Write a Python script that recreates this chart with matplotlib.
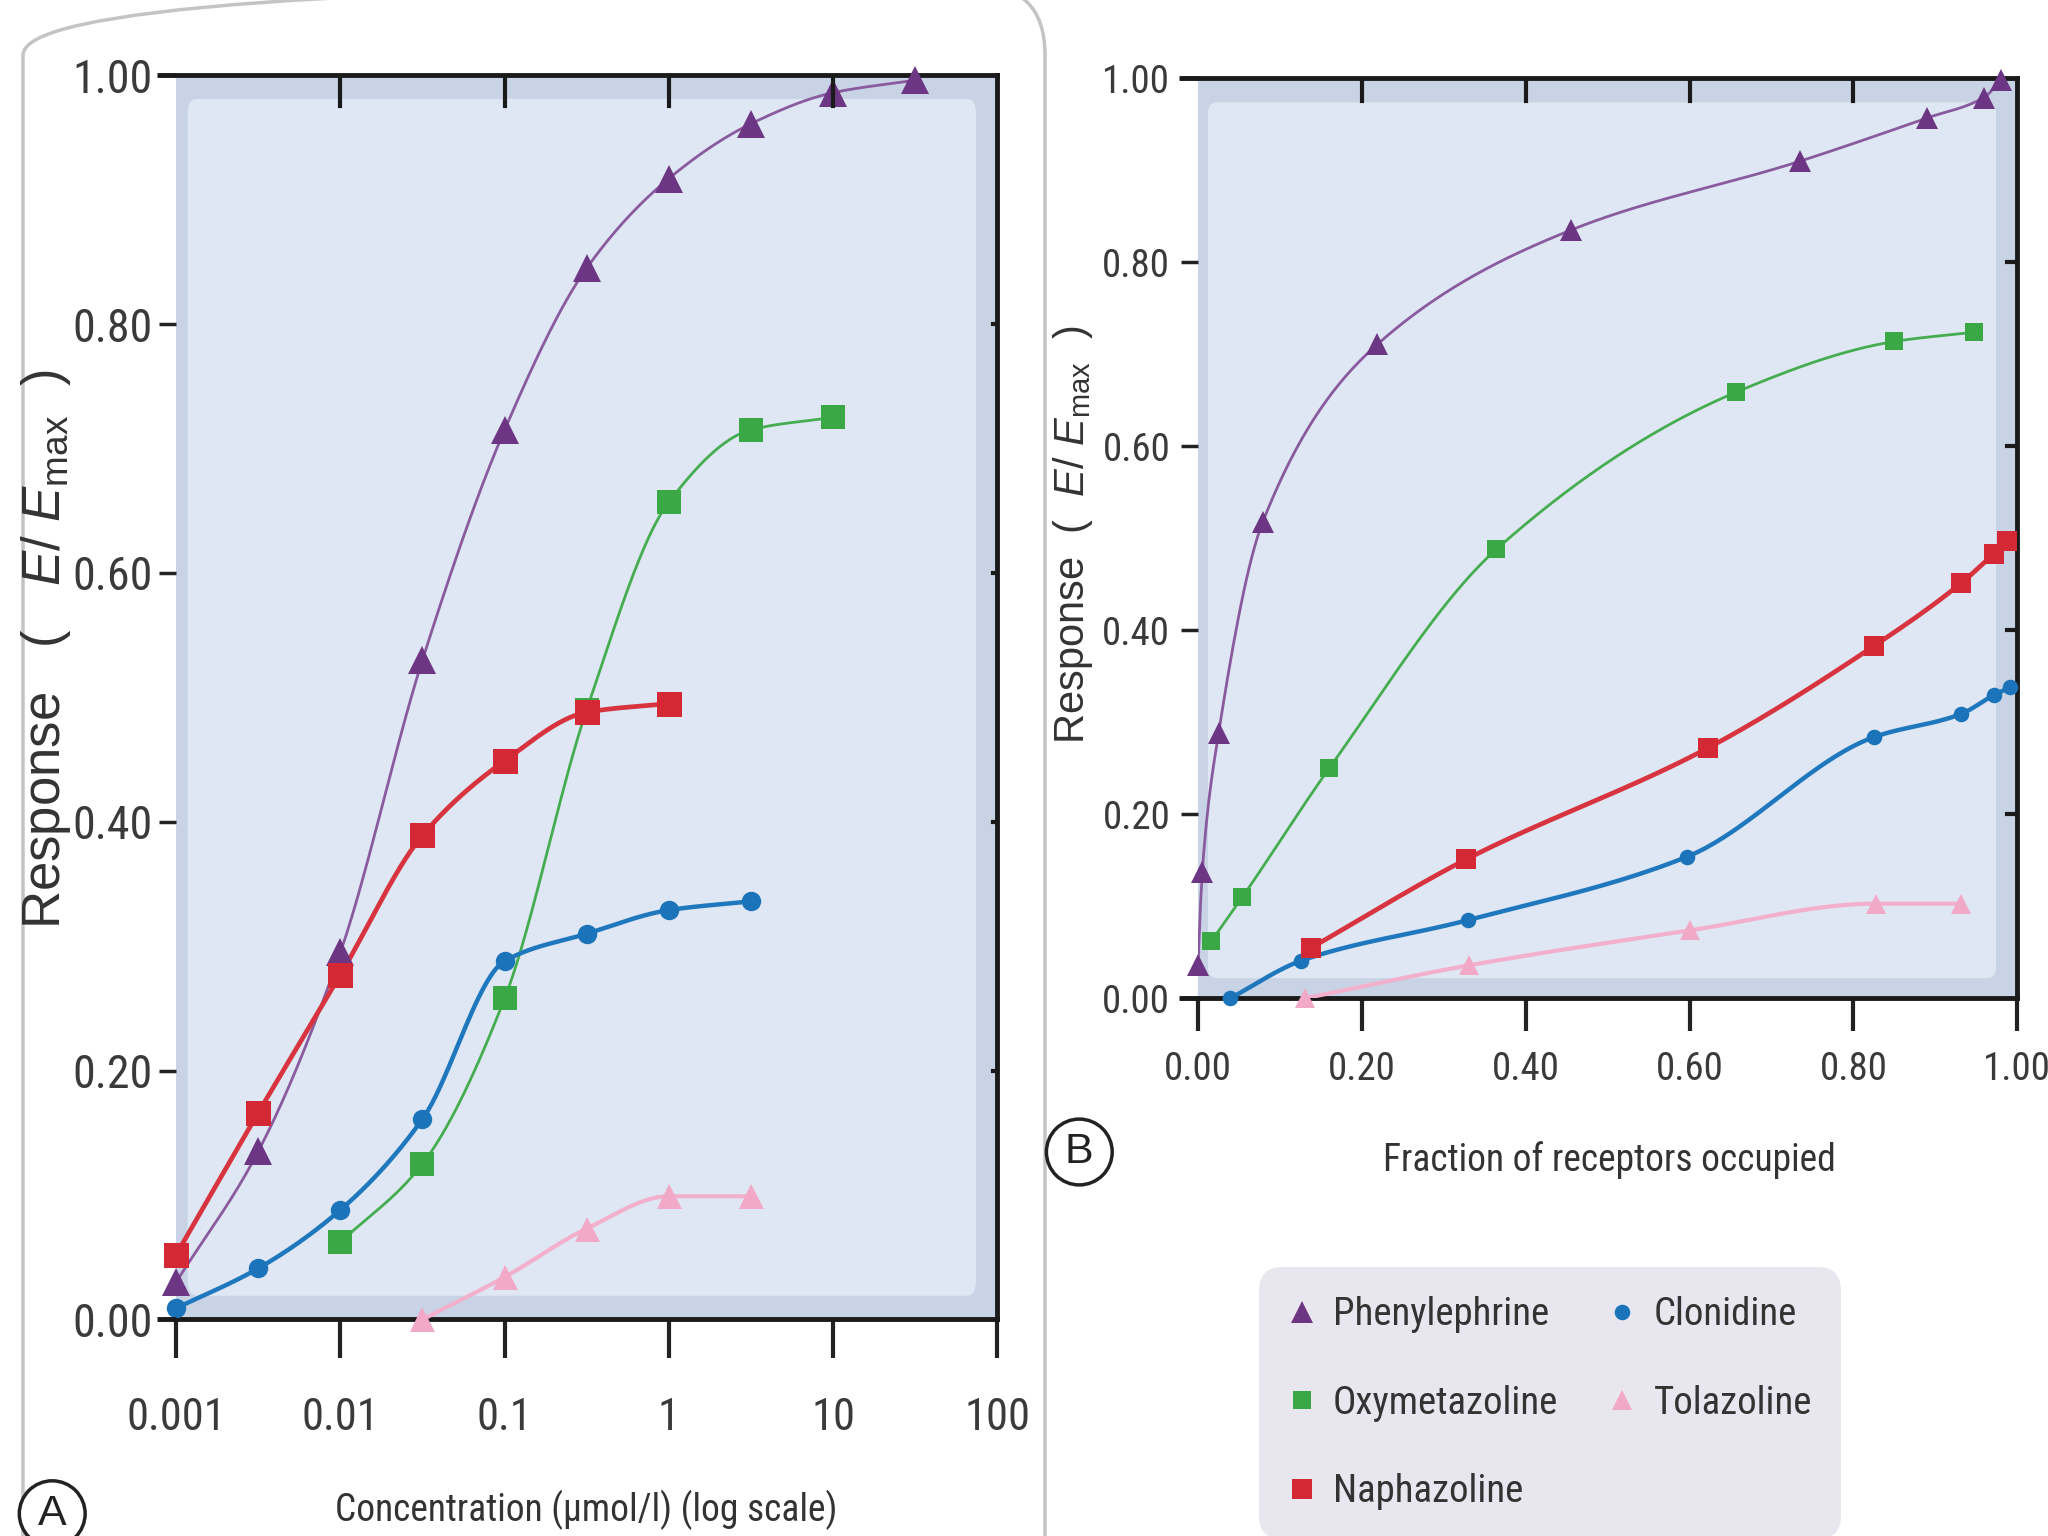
import numpy as np
import matplotlib.pyplot as plt
from matplotlib.patches import FancyBboxPatch
from matplotlib.lines import Line2D

plt.rcParams['font.family'] = ['Roboto Condensed', 'Liberation Sans', 'DejaVu Sans']
plt.rcParams['mathtext.fontset'] = 'custom'
plt.rcParams['mathtext.it'] = 'Liberation Sans:italic'
plt.rcParams['mathtext.rm'] = 'Liberation Sans'

# ---- panel A: concentration-response (log scale) ----
phen_a_x = [0.001, 0.00316, 0.01, 0.0316, 0.1, 0.316, 1, 3.16, 10, 31.6]
phen_a_y = [0.03, 0.135, 0.295, 0.53, 0.715, 0.845, 0.917, 0.961, 0.986, 0.996]
oxy_a_x = [0.01, 0.0316, 0.1, 0.316, 1, 3.16, 10]
oxy_a_y = [0.062, 0.125, 0.258, 0.49, 0.657, 0.715, 0.725]
naph_a_x = [0.001, 0.00316, 0.01, 0.0316, 0.1, 0.316, 1]
naph_a_y = [0.052, 0.166, 0.277, 0.389, 0.449, 0.488, 0.495]
clon_a_x = [0.001, 0.00316, 0.01, 0.0316, 0.1, 0.316, 1, 3.16]
clon_a_y = [0.009, 0.041, 0.088, 0.161, 0.288, 0.31, 0.329, 0.336]
tola_a_x = [0.0316, 0.1, 0.316, 1, 3.16]
tola_a_y = [0.0, 0.034, 0.073, 0.099, 0.099]

# ---- panel B: response vs receptor occupancy ----
phen_b_x = [0.0, 0.005, 0.025, 0.079, 0.219, 0.455, 0.735, 0.89, 0.959, 0.98]
phen_b_y = [0.036, 0.137, 0.288, 0.518, 0.711, 0.835, 0.91, 0.957, 0.979, 0.998]
oxy_b_x = [0.016, 0.054, 0.16, 0.364, 0.657, 0.85, 0.947]
oxy_b_y = [0.062, 0.11, 0.25, 0.488, 0.659, 0.714, 0.724]
naph_b_x = [0.138, 0.327, 0.622, 0.825, 0.931, 0.971, 0.988]
naph_b_y = [0.055, 0.151, 0.272, 0.383, 0.451, 0.483, 0.497]
clon_b_x = [0.039, 0.126, 0.329, 0.597, 0.825, 0.931, 0.972, 0.991]
clon_b_y = [0.0, 0.041, 0.085, 0.154, 0.284, 0.309, 0.33, 0.338]
tola_b_x = [0.13, 0.331, 0.601, 0.827, 0.931]
tola_b_y = [0.0, 0.036, 0.074, 0.103, 0.103]

a_ticks = [0.001, 0.01, 0.1, 1, 10, 100]
a_ticklabels = ['0.001', '0.01', '0.1', '1', '10', '100']
y_ticks = [0.0, 0.2, 0.4, 0.6, 0.8, 1.0]

names = ['Phenylephrine', 'Oxymetazoline', 'Naphazoline', 'Clonidine', 'Tolazoline']
markers = ['^', 's', 's', 'o', '^']
mcol = ['#6d3684', '#3aa845', '#d42834', '#1b74ba', '#f2a9c8']
lcol = ['#8a5a9e', '#45ad50', '#d8343f', '#1f78bd', '#f2b0cc']
lw = [2.0, 2.0, 3.4, 3.2, 3.0]
msz = [20, 17, 18, 14, 18]


def smooth(x, y, n=300):
    # monotone cubic (Fritsch-Carlson) curve through the points
    x = np.asarray(x, float)
    y = np.asarray(y, float)
    h = np.diff(x)
    d = np.diff(y) / h
    m = np.zeros_like(y)
    m[0], m[-1] = d[0], d[-1]
    for k in range(1, len(x) - 1):
        if d[k - 1] * d[k] > 0:
            w1 = 2 * h[k] + h[k - 1]
            w2 = h[k] + 2 * h[k - 1]
            m[k] = (w1 + w2) / (w1 / d[k - 1] + w2 / d[k])
    xs = np.linspace(x[0], x[-1], n)
    i = np.clip(np.searchsorted(x, xs) - 1, 0, len(h) - 1)
    t = (xs - x[i]) / h[i]
    ys = ((2 * t**3 - 3 * t**2 + 1) * y[i] + (t**3 - 2 * t**2 + t) * h[i] * m[i]
          + (-2 * t**3 + 3 * t**2) * y[i + 1] + (t**3 - t**2) * h[i] * m[i + 1])
    return xs, ys


fig = plt.figure(figsize=(20.48, 15.36), dpi=100)
fig.patch.set_facecolor('white')

band = '#c8d4e5'
inner = '#dee7f3'
txt = '#333333'


def style_axes(ax, insets):
    ax.set_facecolor(band)
    l, r, b, t = insets
    ax.add_patch(FancyBboxPatch((l, b), 1 - l - r, 1 - b - t,
                                boxstyle='round,pad=0,rounding_size=0.012',
                                transform=ax.transAxes, facecolor=inner,
                                edgecolor='none', zorder=0))
    ax.spines['left'].set_visible(False)
    for s in ['top', 'bottom', 'right']:
        ax.spines[s].set_linewidth(3.5)
        ax.spines[s].set_color('#1a1a1a')
    # top and bottom rules run a little past the left edge
    for yv in (0, 1):
        ax.plot([-0.023, 0], [yv, yv], transform=ax.transAxes, color='#1a1a1a',
                lw=3.5, clip_on=False, solid_capstyle='butt', zorder=5)
    ax.tick_params(axis='y', which='both', left=True, right=False, direction='out',
                   length=12, width=2.5, color='#222222', labelcolor='#3a3a3a')
    ax.tick_params(axis='x', which='both', bottom=True, top=False, direction='out',
                   length=28, width=3, color='#222222', labelcolor='#3a3a3a')


def draw_series(ax, xs, ys, k, logx=False, scale=1.0):
    if logx:
        sx, sy = smooth(np.log10(xs), ys)
        sx = 10 ** sx
    else:
        sx, sy = smooth(xs, ys)
    ax.plot(sx, sy, color=lcol[k], lw=lw[k], zorder=3)
    ax.plot(xs, ys, linestyle='none', marker=markers[k], color=mcol[k],
            markersize=msz[k] * scale, markeredgewidth=0, zorder=4, clip_on=False)


# panel A
axA = fig.add_axes([0.086, 0.141, 0.401, 0.810])
style_axes(axA, (0.014, 0.026, 0.019, 0.019))
axA.set_xscale('log')
axA.set_xlim(0.001, 100)
axA.set_ylim(0, 1)
axA.minorticks_off()
axA.set_xticks(a_ticks)
axA.set_xticklabels(a_ticklabels)
axA.set_yticks(y_ticks)
axA.set_yticklabels(['%.2f' % v for v in y_ticks])
axA.tick_params(axis='x', labelsize=32, pad=28)
axA.tick_params(axis='y', labelsize=33, pad=5)
for xv in a_ticks[1:-1]:
    axA.plot([xv, xv], [1, 0.975], color='#1a1a1a', lw=3, zorder=5)
for yv in y_ticks[1:-1]:
    axA.plot([100 / 1.07, 100], [yv, yv], color='#1a1a1a', lw=3, zorder=5)

series_a = [(phen_a_x, phen_a_y), (oxy_a_x, oxy_a_y), (naph_a_x, naph_a_y),
            (clon_a_x, clon_a_y), (tola_a_x, tola_a_y)]
for k in [4, 0, 1, 3, 2]:
    draw_series(axA, series_a[k][0], series_a[k][1], k, logx=True)

fig.text(0.0225, 0.577, r'Response   (   $E$/ $E_{\mathrm{max}}$  )', rotation=90,
         ha='center', va='center', fontsize=38, color=txt,
         family=['Liberation Sans', 'DejaVu Sans'])
fig.text(0.286, 0.004, 'Concentration (µmol/l) (log scale)', ha='center', va='bottom',
         fontsize=27, color=txt)
fig.text(0.0255, 0.0145, 'A', ha='center', va='center', fontsize=31, color='#222222',
         family=['Liberation Sans', 'DejaVu Sans'],
         bbox=dict(boxstyle='circle,pad=0.3', fc='white', ec='#222222', lw=2.5))

# panel B
axB = fig.add_axes([0.585, 0.350, 0.400, 0.599])
style_axes(axB, (0.012, 0.026, 0.022, 0.026))
axB.set_xlim(0, 1)
axB.set_ylim(0, 1)
axB.set_xticks(y_ticks)
axB.set_xticklabels(['%.2f' % v for v in y_ticks])
axB.set_yticks(y_ticks)
axB.set_yticklabels(['%.2f' % v for v in y_ticks])
axB.tick_params(axis='both', labelsize=28)
axB.tick_params(axis='x', pad=14, length=24)
axB.tick_params(axis='y', pad=8)
for xv in y_ticks[1:-1]:
    axB.plot([xv, xv], [1, 0.975], color='#1a1a1a', lw=3, zorder=5)
for yv in y_ticks[1:-1]:
    axB.plot([0.988, 1], [yv, yv], color='#1a1a1a', lw=3, zorder=5)

series_b = [(phen_b_x, phen_b_y), (oxy_b_x, oxy_b_y), (naph_b_x, naph_b_y),
            (clon_b_x, clon_b_y), (tola_b_x, tola_b_y)]
for k in [4, 3, 2, 1, 0]:
    draw_series(axB, series_b[k][0], series_b[k][1], k, scale=0.8)

fig.text(0.524, 0.652, r'Response  (  $E$/ $E_{\mathrm{max}}$  )', rotation=90,
         ha='center', va='center', fontsize=30, color=txt,
         family=['Liberation Sans', 'DejaVu Sans'])
fig.text(0.786, 0.245, 'Fraction of receptors occupied', ha='center', va='center',
         fontsize=27, color=txt)
fig.text(0.527, 0.250, 'B', ha='center', va='center', fontsize=31, color='#222222',
         family=['Liberation Sans', 'DejaVu Sans'],
         bbox=dict(boxstyle='circle,pad=0.3', fc='white', ec='#222222', lw=2.5))

# legend
handles = [Line2D([], [], linestyle='none', marker=markers[k], color=mcol[k],
                  markersize=msz[k] * 0.8, markeredgewidth=0) for k in range(5)]
leg = fig.legend(handles, names, ncol=2, loc='upper left',
                 bbox_to_anchor=(0.611, 0.180), fontsize=28, frameon=True,
                 handlelength=0.7, handletextpad=0.45, columnspacing=1.3,
                 labelspacing=1.32, borderpad=0.45)
leg.get_frame().set_facecolor('#e8e6ee')
leg.get_frame().set_edgecolor('none')
leg.get_frame().set_alpha(1)
leg.get_frame().set_boxstyle('round,pad=0.3,rounding_size=0.6')
for t in leg.get_texts():
    t.set_color(txt)

# thin rounded border round panel A
frame = FancyBboxPatch((0.23, -1.0), 10.22, 16.51,
                       boxstyle='round,pad=0,rounding_size=0.7',
                       transform=fig.dpi_scale_trans, facecolor='none',
                       edgecolor='#c4c4c4', lw=2.5, zorder=-1)
fig.add_artist(frame)

fig.savefig('out.png', dpi=100)
